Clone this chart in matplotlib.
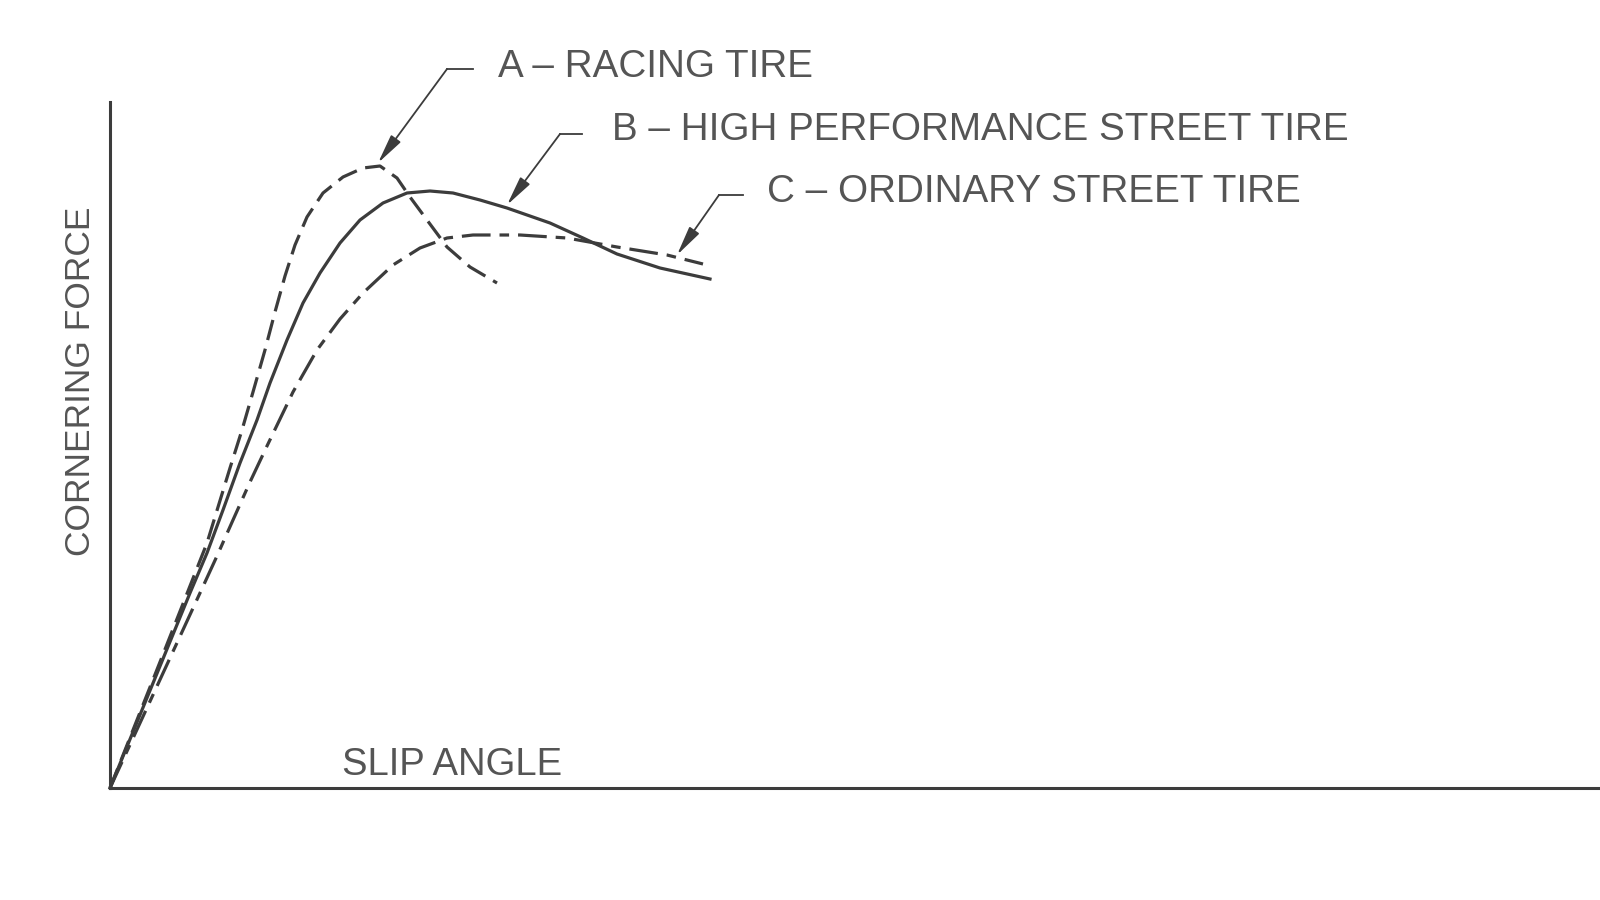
import numpy as np
import matplotlib
matplotlib.use('Agg')
import matplotlib.pyplot as plt

# valores (unidades arbitrarias: deslizamento x forca lateral)
racing_x = [0, 5.0, 9.7, 12.0, 13.2, 14.3, 15.5, 16.5, 17.5, 18.5, 19.7, 21.3, 23.3, 25.3,
            27.0, 28.7, 30.0, 31.7, 33.7, 36.0, 38.7]
racing_y = [0, 12.6, 24.5, 32.0, 35.8, 39.6, 43.8, 47.6, 51.2, 54.3, 57.1, 59.5, 61.1, 62.0,
            62.2, 61.0, 59.1, 56.8, 54.1, 52.1, 50.5]

hiperf_x = [0, 8.0, 9.7, 11.3, 13.0, 14.7, 16.0, 17.7, 19.3, 21.0, 23.0, 25.0, 27.3, 29.7,
            32.0, 34.3, 37.0, 39.7, 44.0, 47.3, 50.7, 55.0, 60.0]
hiperf_y = [0, 19.5, 23.5, 27.8, 32.5, 36.8, 40.5, 44.8, 48.5, 51.5, 54.5, 56.8, 58.5, 59.5,
            59.7, 59.5, 58.8, 58.0, 56.5, 55.0, 53.4, 52.0, 50.9]

street_x = [0, 9.0, 10.7, 12.3, 14.0, 15.7, 18.3, 20.7, 23.0, 25.3, 28.3, 31.0, 33.7, 36.3,
            41.0, 45.7, 50.7, 55.7, 59.3]
street_y = [0, 19.5, 23.2, 26.8, 30.6, 34.2, 39.6, 43.8, 46.9, 49.5, 52.3, 54.0, 55.0, 55.3,
            55.3, 55.0, 54.1, 53.3, 52.4]

rotulos = ['A \u2013 RACING TIRE',
           'B \u2013 HIGH PERFORMANCE STREET TIRE',
           'C \u2013 ORDINARY STREET TIRE']
rotulo_pos = [(38.8, 71.1), (50.2, 64.8), (65.7, 58.6)]      # inicio do texto
gancho = [(33.7, 36.3, 71.9), (45.0, 47.2, 65.4), (60.9, 63.3, 59.3)]  # x0, x1, y do traco
ponta = [(26.8, 62.5), (39.7, 58.3), (56.7, 53.3)]          # onde a seta toca a curva

cor_linha = '#3c3c3c'
cor_texto = '#555555'
plt.rcParams['font.family'] = ['Liberation Sans', 'DejaVu Sans']

fig = plt.figure(figsize=(16, 9), dpi=100)
ax = fig.add_axes([110 / 1600, 1 - 788 / 900, 1 - 110 / 1600, (788 - 102) / 900])
ax.set_xlim(0, 149)
ax.set_ylim(0, 68.6)

lw = 2.3
estilo = dict(color=cor_linha, lw=lw, clip_on=False, solid_joinstyle='round',
              dash_joinstyle='round')
ax.plot(racing_x, racing_y, ls=(0, (6.5, 2.8)), **estilo)
ax.plot(hiperf_x, hiperf_y, **estilo)
ax.plot(street_x, street_y, ls=(0, (9, 2.8, 3, 2.8)), **estilo)

for txt, (tx, ty), (gx0, gx1, gy), (px, py) in zip(rotulos, rotulo_pos, gancho, ponta):
    ax.text(tx, ty, txt, fontsize=27.8, color=cor_texto, ha='left', va='baseline', clip_on=False)
    ax.plot([gx0, gx1], [gy, gy], color=cor_linha, lw=1.3, clip_on=False)
    ax.annotate('', xy=(px, py), xytext=(gx0, gy), annotation_clip=False,
                arrowprops=dict(arrowstyle='-|>,head_length=0.9,head_width=0.18',
                                color=cor_linha, lw=1.3, mutation_scale=20,
                                shrinkA=0, shrinkB=0))

ax.text(23.2, 1.3, 'SLIP ANGLE', fontsize=27.5, color=cor_texto, ha='left', va='baseline')
ax.text(-3.0, 40.7, 'CORNERING FORCE', fontsize=25.5, color=cor_texto, rotation=90,
        ha='center', va='center', clip_on=False)

for lado in ['top', 'right']:
    ax.spines[lado].set_visible(False)
for lado in ['left', 'bottom']:
    ax.spines[lado].set_color(cor_linha)
    ax.spines[lado].set_linewidth(2.2)
ax.set_xticks([])
ax.set_yticks([])

fig.savefig('out.png', dpi=100)
